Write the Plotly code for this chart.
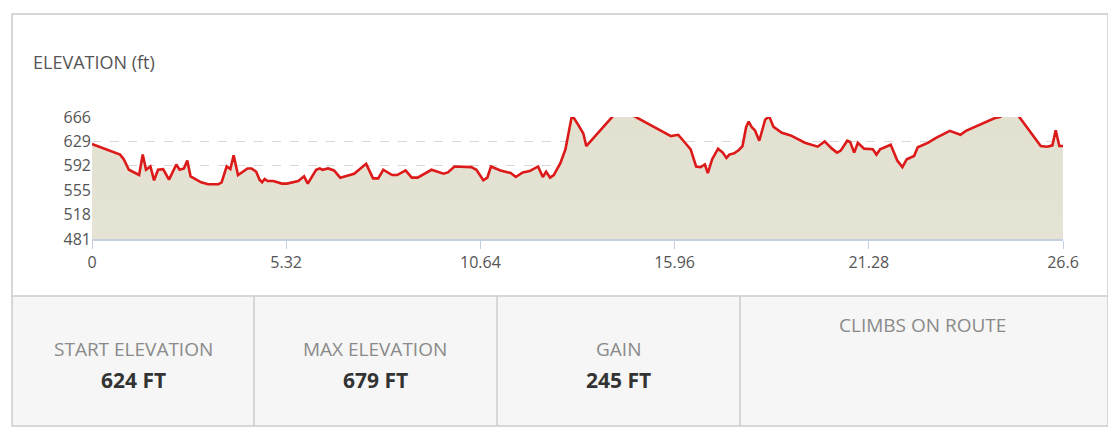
import plotly.graph_objects as go

miles = [0.00, 0.77, 0.87, 1.01, 1.29, 1.39, 1.48, 1.60, 1.70, 1.81, 1.95, 2.11, 2.31, 2.40, 2.52,
         2.61, 2.70, 2.99, 3.18, 3.46, 3.55, 3.69, 3.79, 3.88, 4.00, 4.26, 4.37, 4.50, 4.59, 4.66,
         4.73, 4.81, 4.97, 5.20, 5.34, 5.58, 5.65, 5.81, 5.91, 6.14, 6.24, 6.31, 6.47, 6.63, 6.80,
         7.18, 7.51, 7.70, 7.84, 7.98, 8.22, 8.36, 8.59, 8.76, 8.92, 9.30, 9.49, 9.63, 9.75, 9.93,
         10.39, 10.53, 10.72, 10.83, 10.93, 11.19, 11.47, 11.61, 11.80, 11.99, 12.22, 12.35, 12.44,
         12.55, 12.65, 12.83, 12.97, 13.15, 13.32, 13.46, 13.54, 14.46, 15.86, 16.06, 16.20, 16.40,
         16.55, 16.67, 16.79, 16.87, 16.99, 17.15, 17.28, 17.38, 17.46, 17.59, 17.72, 17.82, 17.92,
         17.99, 18.08, 18.16, 18.28, 18.44, 18.55, 18.67, 18.90, 19.14, 19.53, 19.88, 20.07, 20.27,
         20.41, 20.51, 20.69, 20.77, 20.88, 20.98, 21.15, 21.28, 21.39, 21.49, 21.59, 21.88, 22.06,
         22.20, 22.32, 22.52, 22.62, 22.91, 23.11, 23.50, 23.79, 23.94, 24.72, 24.87, 25.23, 25.99,
         26.17, 26.31, 26.40, 26.50, 26.60]
elev = [625, 609, 602, 586, 578, 609, 586, 591, 570, 586, 587, 571, 594, 586, 588,
        600, 576, 567, 564, 564, 567, 591, 587, 608, 578, 588, 588, 583, 571, 567,
        572, 569, 569, 565, 565, 569, 569, 576, 565, 586, 588, 586, 588, 585, 574,
        580, 595, 573, 573, 586, 578, 578, 585, 574, 574, 586, 583, 580, 582, 591,
        590, 586, 570, 574, 591, 585, 581, 575, 582, 584, 591, 575, 583,
        574, 578, 596, 617, 669, 654, 641, 622, 679, 637, 639, 630, 617,
        591, 590, 594, 581, 602, 618, 612, 604, 609, 611, 616, 622, 651,
        659, 650, 646, 630, 662, 667, 651, 642, 638, 627, 621, 629, 618,
        612, 615, 630, 628, 612, 627, 618, 617, 617, 609, 617, 624, 600,
        590, 602, 607, 620, 627, 634, 645, 639, 645, 664, 666, 679, 622,
        621, 623, 646, 622, 622]

x_ticks = [0, 5.32, 10.64, 15.96, 21.28, 26.6]
y_ticks = [481, 518, 555, 592, 629, 666]

stat_labels = ["START ELEVATION", "MAX ELEVATION", "GAIN", "CLIMBS ON ROUTE"]
stat_values = ["624 FT", "679 FT", "245 FT", ""]

# page has an 8px body margin, so figure is drawn 8px smaller and shifted
OFF = 8
W, H = 1100, 420
L, R, T, B = 92 - OFF, 1063 - OFF, 117 - OFF, 239 - OFF


def px(x):
    return (x - OFF - L) / (R - L)


def py(y):
    return (B - (y - OFF)) / (B - T)


fig = go.Figure()
fig.add_trace(go.Scatter(
    x=miles, y=elev, mode="lines", fill="tozeroy", cliponaxis=False,
    fillgradient=dict(type="vertical", colorscale=[[0, "#ecebe2"], [1, "#e2e0cf"]]),
    line=dict(color="#dd1a1a", width=2.6), hoverinfo="skip",
))

shapes = []
shapes.append(dict(type="rect", xref="paper", yref="paper", x0=px(12), x1=px(1108),
                   y0=py(426), y1=py(296), fillcolor="#f6f6f6", line=dict(width=0), layer="below"))
shapes.append(dict(type="rect", xref="paper", yref="paper", x0=px(12), x1=px(1108),
                   y0=py(426), y1=py(14), line=dict(color="#cccccc", width=1.5)))
shapes.append(dict(type="line", xref="paper", yref="paper", x0=px(12), x1=px(1108),
                   y0=py(296), y1=py(296), line=dict(color="#cccccc", width=1.5)))
for xd in [254, 497, 740]:
    shapes.append(dict(type="line", xref="paper", yref="paper", x0=px(xd), x1=px(xd),
                       y0=py(426), y1=py(296), line=dict(color="#cccccc", width=1.5)))

annotations = [dict(text="ELEVATION (ft)", xref="paper", yref="paper", x=px(31), y=py(62),
                    xanchor="left", yanchor="middle", showarrow=False,
                    font=dict(size=18, color="#555555"))]
centers = [133, 375, 618, 922]
for i, lab in enumerate(stat_labels):
    ly = 325 if stat_values[i] == "" else 349
    annotations.append(dict(text=lab, xref="paper", yref="paper", x=px(centers[i]), y=py(ly),
                            xanchor="center", yanchor="middle", showarrow=False,
                            font=dict(size=19, color="#8a8a8a")))
    if stat_values[i]:
        annotations.append(dict(text="<b>" + stat_values[i] + "</b>", xref="paper", yref="paper",
                                x=px(centers[i]), y=py(380), xanchor="center", yanchor="middle",
                                showarrow=False, font=dict(size=21, color="#333333")))

fig.update_layout(
    width=W, height=H,
    margin=dict(l=L, r=W - R, t=T, b=H - B),
    paper_bgcolor="white", plot_bgcolor="white",
    font=dict(family="Open Sans", color="#555555"),
    showlegend=False,
    shapes=shapes, annotations=annotations,
    xaxis=dict(range=[0, 26.6], tickvals=x_ticks, ticktext=["0", "5.32", "10.64", "15.96", "21.28", "26.6"],
               showgrid=False, zeroline=False, showline=True, linecolor="#c4d0e0", linewidth=1.5,
               ticks="outside", ticklen=8, tickcolor="#c4d0e0", tickfont=dict(size=16, color="#555555")),
    yaxis=dict(range=[481, 666], tickvals=y_ticks, showgrid=True, gridcolor="#d8d8d8",
               griddash="dash", zeroline=False, ticks="", tickfont=dict(size=16, color="#555555")),
)

fig.write_html("out.html")
